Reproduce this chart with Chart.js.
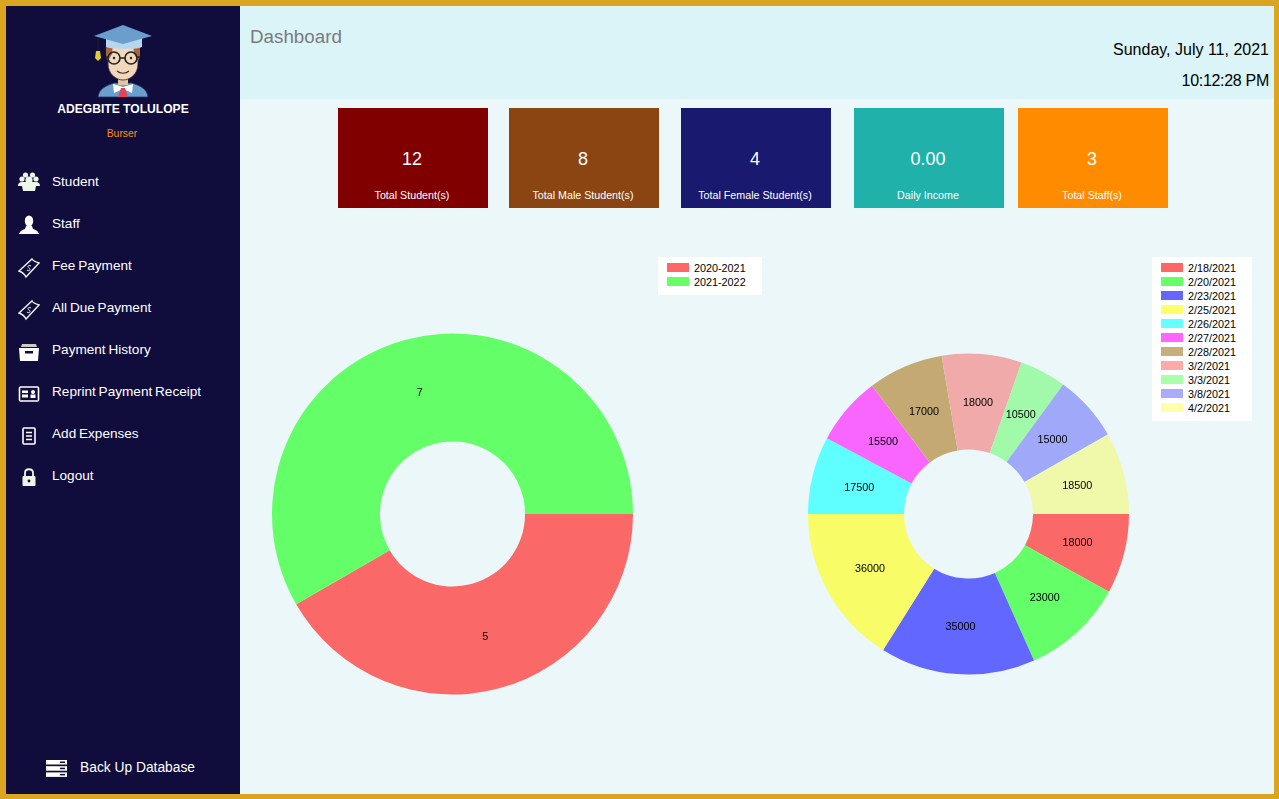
<!DOCTYPE html>
<html>
<head>
<meta charset="utf-8">
<title>Dashboard</title>
<script src="https://cdn.jsdelivr.net/npm/chart.js@4"></script>
<style>
  html, body { margin: 0; padding: 0; }
  body { width: 1279px; height: 799px; overflow: hidden; position: relative; background: #ebf7f9; font-family: "Liberation Sans", Arial, sans-serif; }
  #frame { position: absolute; left: 0; top: 0; width: 1268px; height: 788px; border: 6px solid #daa520; border-right-width: 5px; border-bottom-width: 5px; pointer-events: none; z-index: 5; }
  #side { position: absolute; left: 6px; top: 6px; width: 234px; height: 788px; background: #100c3c; color: #fff; }
  #top { position: absolute; left: 240px; top: 6px; width: 1034px; height: 93px; background: #daf4f7; }
  #title { position: absolute; left: 250px; top: 26px; font-size: 18.8px; color: #7b7b7b; }
  #date, #time { position: absolute; right: 10px; font-size: 16px; color: #000; white-space: nowrap; }
  #date { top: 41px; }
  #time { top: 72px; letter-spacing: -0.3px; }
  .abs { position: absolute; white-space: nowrap; }
  .menu { position: absolute; left: 52px; font-size: 13.6px; word-spacing: -1px; color: #fff; white-space: nowrap; line-height: 16px; }
  .ico { position: absolute; left: 18px; width: 22px; height: 22px; }
  .card { position: absolute; top: 108px; width: 150px; height: 100px; color: #fff; text-align: center; }
  .card .num { position: absolute; left: -1px; right: 1px; top: 40px; font-size: 18px; line-height: 22px; }
  .card .lab { position: absolute; left: -1px; right: 1px; top: 80px; font-size: 10.7px; line-height: 14px; }
  canvas { position: absolute; }
  .legend { position: absolute; background: #fff; font-size: 10.8px; color: #000; }
  .legend div { position: absolute; left: 0; height: 14px; line-height: 14px; white-space: nowrap; }
  .legend i { position: absolute; left: 9px; top: 2px; width: 22px; height: 9px; }
  .legend span { position: absolute; left: 36px; top: 0; }
</style>
</head>
<body>
<div id="frame"></div>
<div id="side"></div>
<div id="top"></div>
<div id="title">Dashboard</div>
<div id="date">Sunday, July 11, 2021</div>
<div id="time">10:12:28 PM</div>

<!-- avatar -->
<svg class="abs" style="left:93px;top:24px" width="60" height="74" viewBox="0 0 60 74">
  <path d="M5 73 C6 65 12 62 21 59 L39 59 C48 62 54 65 55 73 Z" fill="#6a9ecd" stroke="#2a3358" stroke-width="0.8"/>
  <path d="M20 60 L30 63 L40 60 L39 69 L30 65 L21 69 Z" fill="#fff"/>
  <path d="M28 64 L32 64 L35 73 L25 73 Z" fill="#e0455a"/>
  <rect x="25" y="50" width="10" height="11" fill="#e2c3a4"/>
  <path d="M15 22 L45 22 L45 40 C45 50 37 56 30 56 C23 56 15 50 15 40 Z" fill="#f1d8bd" stroke="#2a2a3a" stroke-width="0.8"/>
  <path d="M13 20 L20 20 L19 30 L15 37 L13 33 Z M47 20 L40 20 L41 30 L45 37 L47 33 Z" fill="#a8643a"/>
  <circle cx="21" cy="34" r="6" fill="none" stroke="#222" stroke-width="1.6"/>
  <circle cx="38" cy="34" r="6" fill="none" stroke="#222" stroke-width="1.6"/>
  <circle cx="21" cy="34" r="1.2" fill="#222"/>
  <circle cx="38" cy="34" r="1.2" fill="#222"/>
  <path d="M27 34 L32 34 M13 33 L15 33 M44 33 L47 33" stroke="#222" stroke-width="1.4"/>
  <path d="M24 47 C27 50 33 50 36 47" stroke="#4a2f22" stroke-width="1.2" fill="none"/>
  <path d="M13 12 L49 12 L49 23 C40 26 37 24 30 25 C22 24 18 25 13 23 Z" fill="#b6d6ee"/>
  <path d="M1 12 L30 1 L59 12 L30 20 Z" fill="#6a9ecd"/>
  <path d="M5 14 L5 28" stroke="#222" stroke-width="1"/>
  <path d="M3 27 L7 27 L8 34 L5 37 L2 34 Z" fill="#e3cf35"/>
</svg>
<div class="abs" style="left:6px;width:234px;top:102px;text-align:center;font-size:12.1px;font-weight:bold;color:#fff;line-height:15px">ADEGBITE TOLULOPE</div>
<div class="abs" style="left:5px;width:234px;top:127px;text-align:center;font-size:10.4px;color:#ff8c00;line-height:14px">Burser</div>

<!-- menu icons -->
<svg class="ico" style="top:171px" viewBox="0 0 22 22" fill="#eef5ea"><circle cx="4" cy="8" r="2.6"/><circle cx="18" cy="8" r="2.6"/><circle cx="7.5" cy="4" r="2.6"/><circle cx="14.5" cy="4" r="2.6"/><circle cx="11" cy="9" r="3.6"/><path d="M0 15 C0 11 3 11 5 11 L17 11 C19 11 22 11 22 15 L18 15 L17 20 L5 20 L4 15 Z"/></svg>
<svg class="ico" style="top:214px" viewBox="0 0 22 22" fill="#fff"><ellipse cx="11" cy="7" rx="4.2" ry="5.5"/><path d="M8 12 L14 12 L15 15 C18 16 20 17 21 20 L1 20 C2 17 4 16 7 15 Z"/></svg>
<svg class="ico" style="top:257px" viewBox="0 0 22 22" fill="none" stroke="#eef5ea" stroke-width="1.4"><path d="M1 14 L14 2 C15 4 18 5 21 6 L8 20 C7 18 4 15 1 14 Z"/><path d="M13 9 C11 7.500 8.500 9.500 11 11 C13.500 12.500 11 15 9 13" stroke-width="1"/></svg>
<svg class="ico" style="top:299px" viewBox="0 0 22 22" fill="none" stroke="#eef5ea" stroke-width="1.4"><path d="M1 14 L14 2 C15 4 18 5 21 6 L8 20 C7 18 4 15 1 14 Z"/><path d="M13 9 C11 7.500 8.500 9.500 11 11 C13.500 12.500 11 15 9 13" stroke-width="1"/></svg>
<svg class="ico" style="top:341px" viewBox="0 0 22 22" fill="#fff"><path d="M4 3 L18 3 L19 6 L3 6 Z" fill="#c9c9c9"/><path d="M1 7 L21 7 L20 20 L2 20 Z"/><rect x="7" y="10" width="8" height="2.5" fill="#100c3c"/></svg>
<svg class="ico" style="top:383px" viewBox="0 0 22 22"><rect x="1.5" y="4" width="19" height="14" rx="1" fill="none" stroke="#fff" stroke-width="1.6"/><path d="M4 7.5 H10 V10 H4 Z M4 11.5 H10 V14.5 H4 Z" fill="#fff"/><circle cx="15" cy="9" r="2" fill="#fff"/><rect x="12.5" y="11.5" width="5" height="3.5" fill="#fff"/></svg>
<svg class="ico" style="top:425px" viewBox="0 0 22 22" fill="none" stroke="#fff" stroke-width="1.6"><rect x="5" y="3" width="12" height="16" rx="1"/><path d="M8 7.5 H14 M8 11 H14 M8 14.5 H14"/></svg>
<svg class="ico" style="top:466px" viewBox="0 0 22 22"><path d="M7 10 V7 C7 2 15 2 15 7 V10" fill="none" stroke="#eef5ea" stroke-width="1.8"/><rect x="4.5" y="10" width="13" height="10" rx="1" fill="#eef5ea"/><circle cx="11" cy="15" r="1.4" fill="#100c3c"/></svg>
<svg class="abs" style="left:46px;top:760px" width="21" height="17" viewBox="0 0 21 17" fill="#fff"><rect x="0" y="0" width="21" height="4.5"/><rect x="0" y="6.2" width="21" height="4.5"/><rect x="0" y="12.4" width="21" height="4.5"/><rect x="14" y="1.5" width="5" height="1.5" fill="#100c3c"/><rect x="14" y="7.7" width="5" height="1.5" fill="#100c3c"/><rect x="14" y="13.9" width="5" height="1.5" fill="#100c3c"/></svg>

<div id="menu"></div>
<div id="cards"></div>

<canvas id="sesionChart"></canvas>
<canvas id="pagosChart"></canvas>
<div id="legendSesion" class="legend" style="left:658px;top:257px;width:104px;height:38px"></div>
<div id="legendPagos" class="legend" style="left:1152px;top:257px;width:100px;height:164px"></div>

<script>
/* -----------------------------
   DATA
----------------------------- */
const menuLabels = ["Student", "Staff", "Fee Payment", "All Due Payment", "Payment History", "Reprint Payment Receipt", "Add Expenses", "Logout"];

const cardValues = ["12", "8", "4", "0.00", "3"];
const cardLabels = ["Total Student(s)", "Total Male Student(s)", "Total Female Student(s)", "Daily Income", "Total Staff(s)"];
const cardLefts = [338, 509, 681, 854, 1018];
const cardColors = ["#800000", "#8b4513", "#191970", "#20b2aa", "#ff8c00"];

const sessionLabels = ["2020-2021", "2021-2022"];
const sessionValues = [5, 7];
const sessionSlices = ["#fa6868", "#64ff68"];
const sessionLegend = ["#ff6666", "#66ff66"];

const paymentLabels = ["2/18/2021", "2/20/2021", "2/23/2021", "2/25/2021", "2/26/2021", "2/27/2021", "2/28/2021", "3/2/2021", "3/3/2021", "3/8/2021", "4/2/2021"];
const paymentValues = [18000, 23000, 35000, 36000, 17500, 15500, 17000, 18000, 10500, 15000, 18500];
const paymentSlices = ["#fa6868", "#64ff68", "#6268ff", "#f8fc66", "#60ffff", "#f866ff", "#c4aa72", "#f0aaaa", "#a0faaa", "#a0a8fa", "#f0f8aa"];
const paymentLegend = ["#ff6666", "#66ff66", "#6666ff", "#ffff66", "#66ffff", "#ff66ff", "#c8ae78", "#ffaaaa", "#aaffaa", "#aaaaff", "#ffffaa"];

/* -----------------------------
   DOM
----------------------------- */
const menuEl = document.getElementById("menu");
menuLabels.forEach((texto, i) => {
    const d = document.createElement("div");
    d.className = "menu";
    d.style.top = (174 + i * 42) + "px";
    d.innerText = texto;
    menuEl.appendChild(d);
});

const backup = document.createElement("div");
backup.className = "menu";
backup.style.left = "80px";
backup.style.top = "760px";
backup.style.fontSize = "13.8px";
backup.style.wordSpacing = "0";
backup.innerText = "Back Up Database";
menuEl.appendChild(backup);

const cardsEl = document.getElementById("cards");
cardValues.forEach((valor, i) => {
    const c = document.createElement("div");
    c.className = "card";
    c.style.left = cardLefts[i] + "px";
    c.style.background = cardColors[i];
    c.innerHTML = `<div class="num">${valor}</div><div class="lab">${cardLabels[i]}</div>`;
    cardsEl.appendChild(c);
});

function crearLeyenda(id, labels, colores) {
    const el = document.getElementById(id);
    labels.forEach((texto, i) => {
        const fila = document.createElement("div");
        fila.style.top = (4 + i * 14) + "px";
        fila.innerHTML = `<i style="background:${colores[i]}"></i><span>${texto}</span>`;
        el.appendChild(fila);
    });
}

crearLeyenda("legendSesion", sessionLabels, sessionLegend);
crearLeyenda("legendPagos", paymentLabels, paymentLegend);

/* -----------------------------
   GRAFICAS
----------------------------- */
// value printed in the middle of every slice
const etiquetas = {
    id: "etiquetas",
    afterDatasetsDraw(chart) {
        const ctx = chart.ctx;
        const meta = chart.getDatasetMeta(0);
        ctx.save();
        ctx.font = "10.8px 'Liberation Sans'";
        ctx.fillStyle = "#000";
        ctx.textAlign = "center";
        ctx.textBaseline = "middle";
        meta.data.forEach((arc, i) => {
            const p = arc.tooltipPosition();
            ctx.fillText(chart.data.datasets[0].data[i], p.x, p.y + 1);
        });
        ctx.restore();
    }
};

function crearDona(id, left, top, ancho, alto, labels, valores, colores) {
    const canvas = document.getElementById(id);
    canvas.style.left = left + "px";
    canvas.style.top = top + "px";
    canvas.width = ancho;
    canvas.height = alto;
    return new Chart(canvas, {
        type: "doughnut",
        data: {
            labels: labels,
            datasets: [{ data: valores, backgroundColor: colores, borderWidth: 0 }]
        },
        options: {
            responsive: false,
            animation: false,
            rotation: 90,
            cutout: "40.2%",
            layout: { padding: 0 },
            plugins: { legend: { display: false }, tooltip: { enabled: false } }
        },
        plugins: [etiquetas]
    });
}

crearDona("sesionChart", 272, 333, 361, 362, sessionLabels, sessionValues, sessionSlices);
crearDona("pagosChart", 808, 353, 321, 322, paymentLabels, paymentValues, paymentSlices);
</script>
</body>
</html>
